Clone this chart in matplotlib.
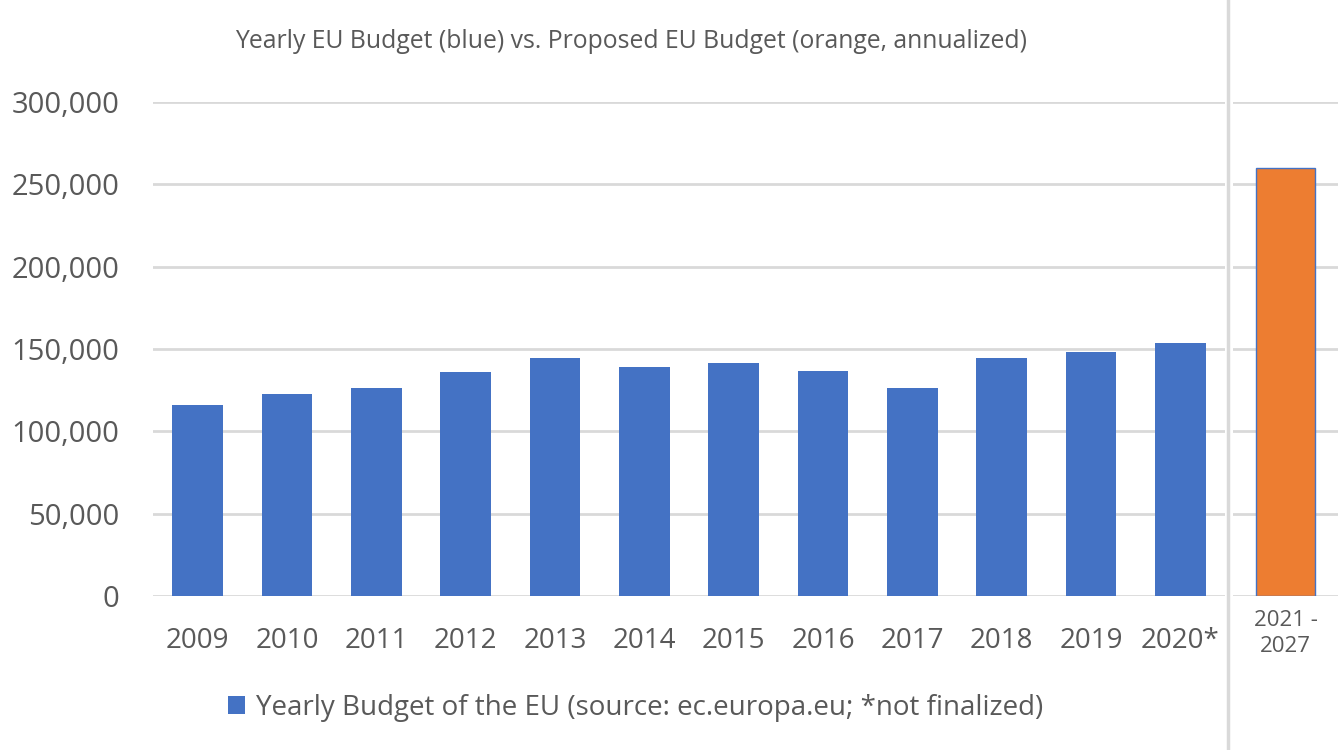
import matplotlib.pyplot as plt
from matplotlib.lines import Line2D

plt.rcParams['font.family'] = ['Open Sans', 'DejaVu Sans']

years = ['2009', '2010', '2011', '2012', '2013', '2014', '2015', '2016',
         '2017', '2018', '2019', '2020*']
budget = [116100, 122900, 126500, 135800, 144500, 139000, 141200, 136700,
          126400, 144700, 148200, 153600]
proposed_label = ['2021 -\n2027']
proposed = [260000]

blue = '#4472C4'
orange = '#ED7D31'
grid = '#D9D9D9'
txt = '#595959'

W, H = 1338, 750
fig = plt.figure(figsize=(W / 100, H / 100), dpi=100)

def px_axes(x0, x1, ytop, ybot):
    return fig.add_axes([x0 / W, 1 - ybot / H, (x1 - x0) / W, (ybot - ytop) / H])

ax = px_axes(153, 1225, 102, 596)
ax.bar(years, budget, width=0.57, color=blue, label='Yearly Budget of the EU (source: ec.europa.eu; *not finalized)')
ax.set_xlim(-0.5, len(years) - 0.5)
ax.set_ylim(0, 300000)
ax.set_yticks(range(0, 300001, 50000))
ax.set_yticklabels([f'{v:,}' for v in range(0, 300001, 50000)])
ax.yaxis.grid(True, color=grid, linewidth=2)
ax.set_axisbelow(True)
for s in ax.spines.values():
    s.set_visible(False)
ax.tick_params(axis='y', length=0, pad=24, labelsize=21, labelcolor=txt)
ax.tick_params(axis='x', length=0, pad=22, labelsize=20, labelcolor=txt)

ax2 = px_axes(1233, 1338, 102, 596)
ax2.bar(proposed_label, proposed, width=0.57, color=orange, edgecolor=blue, linewidth=1)
ax2.set_xlim(-0.5, 0.5)
ax2.set_ylim(0, 300000)
ax2.set_yticks(range(0, 300001, 50000))
ax2.set_yticklabels([])
ax2.yaxis.grid(True, color=grid, linewidth=2)
ax2.set_axisbelow(True)
for s in ax2.spines.values():
    s.set_visible(False)
ax2.tick_params(axis='y', length=0)
ax2.tick_params(axis='x', length=0, pad=10, labelsize=16, labelcolor=txt)
for lbl in ax2.get_xticklabels():
    lbl.set_linespacing(1.35)

fig.add_artist(Line2D([1228 / W, 1228 / W], [0, 1], color=grid, linewidth=2.5))

fig.text(631 / W, 1 - 42 / H, 'Yearly EU Budget (blue) vs. Proposed EU Budget (orange, annualized)',
         ha='center', va='center', fontsize=17.8, color=txt)

fig.legend(loc='center', bbox_to_anchor=(636 / W, 1 - 708 / H), frameon=False,
           fontsize=20, labelcolor=txt, handlelength=0.6, handleheight=0.6, handletextpad=0.4)

fig.savefig('out.png', dpi=100)
